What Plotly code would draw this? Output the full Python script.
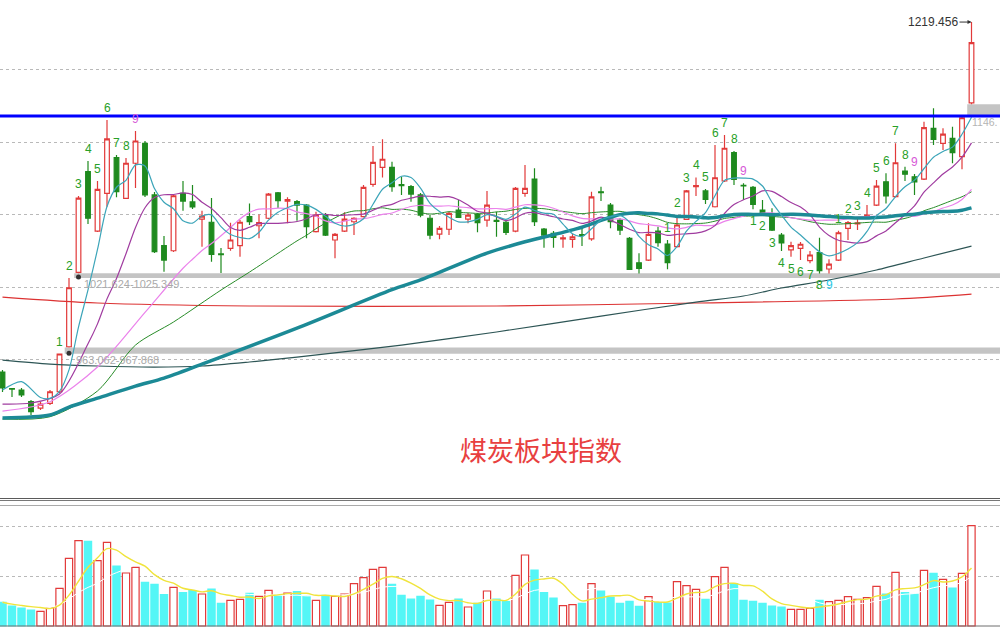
import plotly.graph_objects as go
import pandas as pd
import numpy as np

# ---------------- price data (index candles 0..102) ----------------
opens = [948.9, 936.2, 935.0, 926.0, 921.1, 924.7, 933.7, 968.5, 1026.0, 1103.8,
         1057.9, 1087.1, 1114.6, 1083.2, 1110.3, 1125.7, 1085.8, 1046.6, 1042.7, 1087.1,
         1080.4, 1067.2, 1064.7, 1040.2, 1044.6, 1046.6, 1069.0, 1062.0, 1067.8, 1087.5,
         1081.1, 1080.6, 1078.0, 1057.4, 1070.3, 1051.0, 1057.9, 1065.1, 1069.0, 1094.0,
         1107.2, 1107.2, 1093.9, 1092.2, 1085.8, 1067.8, 1055.6, 1059.3, 1074.2, 1067.2,
         1070.8, 1066.4, 1066.1, 1064.7, 1057.9, 1087.1, 1098.1, 1059.5, 1056.2, 1051.9,
         1051.5, 1055.2, 1051.8, 1088.2, 1078.0, 1066.4, 1052.3, 1033.4, 1035.5, 1057.9,
         1047.9, 1045.8, 1067.0, 1092.3, 1088.9, 1076.7, 1096.6, 1118.5, 1093.3, 1091.7,
         1074.2, 1069.0, 1054.8, 1043.3, 1044.6, 1035.0, 1041.2, 1028.6, 1035.5, 1060.0,
         1063.5, 1067.8, 1078.0, 1096.0, 1084.5, 1104.3, 1099.9, 1098.1, 1137.3, 1125.7,
         1129.6, 1115.4, 1157.0]
highs = [950.5, 936.6, 936.6, 927.3, 925.8, 935.0, 963.1, 1021.6, 1085.0, 1112.0,
         1096.6, 1143.7, 1116.7, 1114.4, 1135.2, 1127.5, 1088.1, 1054.1, 1086.5, 1096.6,
         1093.5, 1073.6, 1083.4, 1044.8, 1064.4, 1066.4, 1079.3, 1070.8, 1087.3, 1088.1,
         1084.0, 1081.9, 1078.8, 1072.9, 1071.8, 1056.4, 1072.4, 1068.5, 1093.5, 1123.6,
         1128.8, 1111.5, 1099.9, 1093.5, 1087.3, 1070.3, 1061.8, 1072.6, 1081.9, 1071.8,
         1071.8, 1088.9, 1072.9, 1066.4, 1091.9, 1109.0, 1106.4, 1060.3, 1057.9, 1054.8,
         1055.6, 1061.3, 1088.3, 1092.2, 1079.6, 1068.0, 1053.3, 1040.7, 1063.9, 1061.3,
         1051.0, 1070.3, 1089.6, 1099.4, 1090.4, 1124.4, 1132.1, 1119.8, 1094.8, 1092.7,
         1081.9, 1075.5, 1056.4, 1049.7, 1049.4, 1042.5, 1052.8, 1036.1, 1058.2, 1065.7,
         1067.8, 1078.0, 1097.4, 1102.5, 1125.7, 1107.6, 1102.0, 1142.4, 1152.8, 1137.3,
         1138.6, 1146.8, 1219.456]
lows = [933.5, 929.6, 929.6, 915.7, 919.6, 923.4, 932.7, 967.9, 1025.3, 1063.3,
        1057.2, 1076.7, 1084.0, 1082.7, 1091.2, 1084.2, 1040.9, 1026.5, 1041.7, 1073.6,
        1074.9, 1045.8, 1034.2, 1025.5, 1042.7, 1038.1, 1062.6, 1052.3, 1067.2, 1075.7,
        1063.9, 1065.9, 1052.3, 1056.8, 1054.1, 1036.8, 1057.2, 1054.8, 1068.4, 1092.2,
        1099.4, 1088.3, 1085.8, 1080.6, 1068.5, 1051.5, 1051.5, 1054.8, 1068.0, 1063.9,
        1056.9, 1061.3, 1053.5, 1054.8, 1056.9, 1084.5, 1061.8, 1045.0, 1045.0, 1045.0,
        1045.0, 1046.3, 1050.4, 1081.1, 1060.0, 1054.8, 1027.8, 1025.2, 1034.7, 1045.8,
        1028.3, 1045.2, 1066.4, 1085.0, 1078.8, 1076.1, 1095.8, 1093.5, 1081.9, 1074.7,
        1071.1, 1057.9, 1042.5, 1038.1, 1035.5, 1033.0, 1025.2, 1025.2, 1034.7, 1051.0,
        1058.7, 1067.2, 1077.3, 1079.3, 1083.8, 1096.6, 1085.8, 1097.4, 1124.4, 1120.6,
        1110.3, 1105.6, 1156.0]
closes = [936.6, 935.8, 931.2, 918.3, 924.2, 933.7, 962.9, 1014.1, 1083.4, 1067.8,
          1090.2, 1129.1, 1088.3, 1110.3, 1127.5, 1085.8, 1041.9, 1035.5, 1085.2, 1081.1,
          1076.5, 1069.5, 1039.9, 1039.6, 1051.0, 1064.7, 1065.1, 1064.4, 1086.5, 1081.4,
          1082.3, 1078.0, 1061.3, 1070.3, 1054.8, 1055.4, 1067.2, 1067.8, 1091.7, 1111.0,
          1113.4, 1092.2, 1093.1, 1086.5, 1070.3, 1054.8, 1060.0, 1071.6, 1068.5, 1070.3,
          1064.4, 1078.0, 1065.3, 1056.9, 1090.9, 1090.9, 1065.1, 1054.8, 1053.1, 1052.7,
          1053.5, 1054.5, 1084.4, 1087.5, 1065.1, 1058.7, 1028.3, 1029.1, 1055.4, 1048.9,
          1033.4, 1062.6, 1088.9, 1093.1, 1082.4, 1099.1, 1121.9, 1097.9, 1092.8, 1078.6,
          1072.4, 1058.7, 1048.7, 1046.6, 1047.7, 1039.4, 1027.3, 1032.4, 1056.6, 1064.4,
          1064.3, 1070.3, 1092.7, 1085.0, 1110.7, 1101.8, 1096.0, 1137.8, 1128.8, 1132.9,
          1118.5, 1145.5, 1203.5]
volumes = [23.7, 20, 18, 16, 14.7, 18.3, 37.7, 67.7, 85.3, 84.7,
           65.3, 83.7, 60, 53, 58.7, 43.7, 41.7, 31.3, 38.7, 33.3,
           35.3, 32, 37, 22.7, 25.7, 26.7, 32.7, 29.7, 35.7, 30.7,
           33, 34.3, 29.7, 25.7, 30.7, 29.7, 32, 42.3, 48.3, 56.7,
           58.7, 41.7, 30.7, 27, 29.7, 26, 20.7, 23.7, 27, 19,
           22.7, 35, 27, 24.3, 50.7, 71, 56, 33.3, 28, 20.3,
           21.3, 22.7, 42.3, 35, 28.7, 22.7, 24.7, 19.7, 29.3, 23.3,
           23, 44.3, 40.3, 36.7, 26.7, 49.3, 58.7, 42.3, 25.7, 24.7,
           22.7, 20, 19, 16.7, 16.7, 17.7, 25.7, 24.3, 25.7, 29.3,
           26.7, 28.3, 39.7, 32, 53.7, 33.3, 31.7, 55.7, 52.7, 46.7,
           38, 52.7, 100.3]
idx = list(range(len(closes)))

ma5_early_idx, ma5_early_val = [0, 2], [935.0, 941.5]
ma10_early_idx, ma10_early_val = [0, 3, 6], [924.2, 925.0, 932.0]
ma20_early_idx, ma20_early_val = [0, 5, 10, 15], [918.8, 926.0, 952.8, 995.0]
ma30_early_idx, ma30_early_val = [0, 5, 10, 14, 18, 23, 26], [912.6, 914.4, 934.3, 969.8, 987.6, 1012.3, 1026.2]
ma60_early_idx = [0, 5, 7, 10, 14, 17, 21, 31, 41, 44, 51, 55]
ma60_early_val = [913.4, 915.7, 921.9, 928.8, 938.1, 944.3, 955.1, 982.9, 1012.7, 1020.1, 1040.9, 1049.6]
ma120_idx = [0, 5, 10, 16, 21, 26, 31, 42, 52, 63, 73, 78, 82, 87, 92, 97, 102]
ma120_val = [958.2, 955.1, 953.6, 952.8, 953.6, 956.7, 960.5, 969.8, 979.9, 992.2,
             1003.0, 1007.7, 1013.9, 1020.1, 1027.8, 1037.1, 1046.3]
ma250_idx = [0, 10, 26, 52, 73, 94, 102]
ma250_val = [1006.9, 1002.3, 1000.0, 1000.0, 1002.3, 1005.4, 1009.2]

# gap bands, key levels
gaps = [(8, 1021.624, 1025.349, "1021.624-1025.349"),
        (7, 963.062, 967.868, "963.062-967.868"),
        (102, 1146.836, 1155.983, "1146.")]
blue_level = 1146.836
grid_prices = [1182.4, 1126.4, 1070.4, 1014.4, 958.4]
vol_grid = [50, 100]

# TD-sequence style count labels
up_count_starts = [6, 70, 88]
down_count_start = 79
title_text = "煤炭板块指数"

# ---------------- figure ----------------
GREEN = "rgb(30,138,30)"
RED = "rgb(226,58,58)"
fig = go.Figure()

fig.add_trace(go.Candlestick(
    x=idx, open=opens, high=highs, low=lows, close=closes,
    increasing=dict(line=dict(color=RED, width=1.2), fillcolor="white"),
    decreasing=dict(line=dict(color=GREEN, width=1.2), fillcolor=GREEN),
    xaxis="x", yaxis="y", hoverinfo="skip"))

cl = pd.Series(closes)


def ma_series(n, e_idx, e_val):
    s = cl.rolling(n).mean()
    xs = list(e_idx) + [i for i in idx if not np.isnan(s[i])]
    ys = list(e_val) + [float(s[i]) for i in idx if not np.isnan(s[i])]
    return xs, ys


ma_specs = [
    (250, None, None, "rgb(220,50,50)", 1.2),
    (120, None, None, "rgb(45,85,85)", 1.2),
    (30, ma30_early_idx, ma30_early_val, "rgb(40,140,40)", 1.0),
    (20, ma20_early_idx, ma20_early_val, "rgb(235,130,235)", 1.2),
    (10, ma10_early_idx, ma10_early_val, "rgb(160,60,160)", 1.2),
    (60, ma60_early_idx, ma60_early_val, "rgb(28,138,150)", 3.5),
    (5, ma5_early_idx, ma5_early_val, "rgb(60,165,185)", 1.2),
]
for n, ei, ev, col, w in ma_specs:
    if n == 250:
        xs, ys = ma250_idx, ma250_val
    elif n == 120:
        xs, ys = ma120_idx, ma120_val
    else:
        xs, ys = ma_series(n, ei, ev)
    fig.add_trace(go.Scatter(x=xs, y=ys, mode="lines",
                             line=dict(color=col, width=w, shape="spline", smoothing=0.8),
                             xaxis="x", yaxis="y", hoverinfo="skip"))

# gap start dots
fig.add_trace(go.Scatter(x=[gaps[0][0], gaps[1][0]], y=[1022.4, 963.4], mode="markers",
                         marker=dict(color="#333333", size=5), xaxis="x", yaxis="y",
                         hoverinfo="skip"))

# volume
up = [c >= o for o, c in zip(opens, closes)]
fig.add_trace(go.Bar(
    x=idx, y=volumes, width=0.76,
    marker=dict(color=["white" if u else "rgb(84,246,246)" for u in up],
                line=dict(color=[RED if u else "rgb(84,246,246)" for u in up], width=1.2)),
    xaxis="x", yaxis="y2", hoverinfo="skip"))
vs = pd.Series(volumes)
vma10 = vs.rolling(10, min_periods=1).mean()
vma5 = vs.rolling(5, min_periods=1).mean()
fig.add_trace(go.Scatter(x=idx, y=vma10, mode="lines", line=dict(color="white", width=1, shape="spline"),
                         xaxis="x", yaxis="y2", hoverinfo="skip"))
fig.add_trace(go.Scatter(x=idx, y=vma5, mode="lines", line=dict(color="rgb(240,228,60)", width=1.4, shape="spline"),
                         xaxis="x", yaxis="y2", hoverinfo="skip"))

shapes = []
annotations = []
for k0, lo, hi, lab in gaps:
    shapes.append(dict(type="rect", xref="x", yref="y", x0=k0 - 0.45, x1=110, y0=lo, y1=hi,
                       fillcolor="rgb(196,196,196)", line=dict(width=0), layer="below"))
annotations.append(dict(x=gaps[0][0], y=gaps[0][1], xref="x", yref="y", text=gaps[0][3],
                        showarrow=False, xanchor="left", yanchor="middle", xshift=3, yshift=-6,
                        font=dict(size=11, color="rgb(170,170,170)", family="Liberation Sans")))
annotations.append(dict(x=gaps[1][0], y=gaps[1][1], xref="x", yref="y", text=gaps[1][3],
                        showarrow=False, xanchor="left", yanchor="middle", xshift=5, yshift=-6,
                        font=dict(size=11, color="rgb(170,170,170)", family="Liberation Sans")))
annotations.append(dict(x=1, y=gaps[2][1], xref="paper", yref="y", text=gaps[2][3],
                        showarrow=False, xanchor="right", yanchor="middle", xshift=0, yshift=-6,
                        font=dict(size=10.5, color="rgb(180,180,180)", family="Liberation Sans")))

shapes.append(dict(type="line", xref="paper", yref="y", x0=0, x1=1, y0=blue_level, y1=blue_level,
                   line=dict(color="rgb(0,0,255)", width=3)))

# panel separators
for py, col, w in [(498.5, "rgb(90,90,90)", 1), (500.5, "rgb(120,120,120)", 1), (505.5, "rgb(170,170,170)", 1)]:
    shapes.append(dict(type="line", xref="paper", yref="paper", x0=0, x1=1,
                       y0=1 - py / 627, y1=1 - py / 627, line=dict(color=col, width=w)))
shapes.append(dict(type="line", xref="paper", yref="y2", x0=0, x1=1, y0=0, y1=0,
                   line=dict(color="rgb(110,110,110)", width=1)))

LBL = "rgb(40,160,40)"
for s in up_count_starts:
    for j in range(9):
        k = s + j
        txt = str(j + 1)
        col = "rgb(215,90,215)" if j == 8 else LBL
        annotations.append(dict(x=k, y=highs[k], xref="x", yref="y", text=txt, showarrow=False,
                                yshift=12, font=dict(size=12, color=col, family="Liberation Sans")))
for j in range(9):
    k = down_count_start + j
    col = "rgb(40,200,230)" if j == 8 else LBL
    annotations.append(dict(x=k, y=lows[k], xref="x", yref="y", text=str(j + 1), showarrow=False,
                            yshift=-12, font=dict(size=12, color=col, family="Liberation Sans")))

annotations.append(dict(x=102, y=highs[102], xref="x", yref="y", text=f"{highs[102]:.3f}",
                        showarrow=True, ax=-12, ay=0, xanchor="right", arrowhead=2, arrowsize=0.8,
                        arrowwidth=1, arrowcolor="#333333",
                        font=dict(size=12, color="#333333", family="Liberation Sans")))
annotations.append(dict(x=0.541, y=1 - 471 / 627, xref="paper", yref="paper", text=title_text,
                        showarrow=False, font=dict(size=27, color="rgb(232,64,64)",
                                                   family="Noto Sans CJK SC")))

fig.update_layout(
    width=1000, height=627, margin=dict(l=0, r=0, t=0, b=0),
    paper_bgcolor="white", plot_bgcolor="white", showlegend=False,
    xaxis=dict(range=[-0.263, 105.0], showgrid=False, zeroline=False, showticklabels=False,
               ticks="", rangeslider=dict(visible=False), fixedrange=True),
    yaxis=dict(domain=[132 / 627, 1], range=[853.9, 1236.5], tickvals=grid_prices,
               showticklabels=False, ticks="", showgrid=True, gridcolor="rgb(185,185,185)",
               griddash="dot", gridwidth=1, zeroline=False),
    yaxis2=dict(domain=[0, 121 / 627], range=[-1, 120], tickvals=vol_grid,
                showticklabels=False, ticks="", showgrid=True, gridcolor="rgb(185,185,185)",
                griddash="dot", gridwidth=1, zeroline=False),
    shapes=shapes, annotations=annotations, bargap=0.2,
)

fig.write_html("out.html", config={"displayModeBar": False},
               post_script="document.body.style.margin='0px';")
